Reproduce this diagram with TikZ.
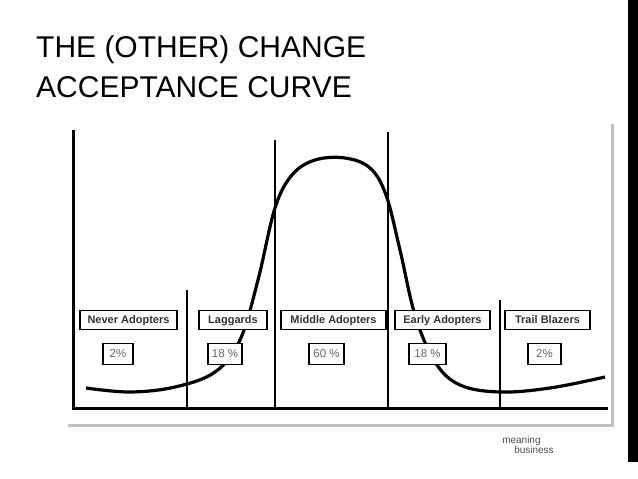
\documentclass[tikz,border=0pt]{standalone}
\usepackage{fontspec}
\setmainfont{Liberation Sans}
\begin{document}
\begin{tikzpicture}[x=1pt,y=-1pt,
  lab/.style={draw,fill=white,line width=1.6pt,inner sep=0pt,minimum height=19pt,text height=8pt,text depth=2pt,font=\fontsize{11}{11}\selectfont\bfseries,text=black!80},
  pct/.style={draw,fill=white,line width=1.6pt,inner sep=0pt,minimum height=21pt,text height=8pt,text depth=1pt,font=\fontsize{11.5}{11}\selectfont,text=black!60},
  ax/.style={line width=3pt},
  div/.style={line width=1.4pt}]
\useasboundingbox (0,0) rectangle (638,479);
\fill[black] (628,0) rectangle (638,462);
\node[anchor=north west,align=left,inner sep=0pt,font=\fontsize{30}{40}\selectfont] (t) at (36,36) {THE (OTHER) CHANGE\\ACCEPTANCE CURVE};
\fill[black!25] (68,124) rectangle (614,427);
\fill[white] (66,122) rectangle (611,424);
\coordinate (o) at (73,408);
\coordinate (ytop) at (73,130);
\coordinate (xend) at (608,408);
\draw[div] (187,290) -- (187,408);
\draw[div] (275,140) -- (275,408);
\draw[div] (388,132) -- (388,408);
\draw[div] (500,300) -- (500,408);
\draw[line width=3.2pt] plot[smooth,tension=0.6] coordinates {(86,388) (130,392) (175,387) (215,372) (240,340) (258,280) (275,208) (292,175) (315,160) (345,158) (370,168) (386,195) (400,250) (415,315) (435,362) (460,385) (500,392) (550,388) (605,377)};
\draw[ax] (ytop) -- (o) -- (xend);
\node[lab,minimum width=97pt] (n1) at (128.5,320) {Never Adopters};
\node[lab,minimum width=68pt] (n2) at (233,320) {Laggards};
\node[lab,minimum width=105pt] (n3) at (333.5,320) {Middle Adopters};
\node[lab,minimum width=95pt] (n4) at (442.5,320) {Early Adopters};
\node[lab,minimum width=85pt] (n5) at (547.5,320) {Trail Blazers};
\node[pct,minimum width=30pt] (p1) at (118,354) {2\%};
\node[pct,minimum width=34pt] (p2) at (225,354) {18 \%};
\node[pct,minimum width=35pt] (p3) at (326.5,354) {60 \%};
\node[pct,minimum width=37pt] (p4) at (427.5,354) {18 \%};
\node[pct,minimum width=33pt] (p5) at (544.5,354) {2\%};
\node[font=\fontsize{10}{8}\selectfont,text=black!70,align=left] (lg) at (528,445) {meaning\\\hspace*{12pt}business};
\end{tikzpicture}
\end{document}
